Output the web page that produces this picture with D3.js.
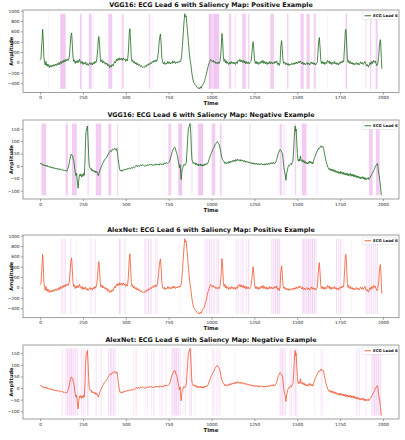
<!DOCTYPE html>
<html><head><meta charset="utf-8">
<script src="https://cdn.jsdelivr.net/npm/d3@7"></script>
<style>body{margin:0;background:#fff}svg{display:block;font-family:"DejaVu Sans",sans-serif}</style>
</head><body><svg id="c" width="405" height="440"></svg>
<script>
// ---------------- DATA ----------------
const titles = [
  "VGG16: ECG Lead 6 with Saliency Map: Positive Example",
  "VGG16: ECG Lead 6 with Saliency Map: Negative Example",
  "AlexNet: ECG Lead 6 with Saliency Map: Positive Example",
  "AlexNet: ECG Lead 6 with Saliency Map: Negative Example"
];
const legendLabel = "ECG Lead 6";
const xLabel = "Time", yLabel = "Amplitude";
const xTicks = [0,250,500,750,1000,1250,1500,1750,2000];
const yTicksPositive = [-400,-200,0,200,400,600,800,1000];
const yTicksNegative = [-100,-50,0,50,100,150];

// ECG lead 6, positive example [time, amplitude]
const ecgPositive = [[0,50],[5,80],[10,350],[15,640],[19,400],[22,100],[26,0],[30,-50],[34,20],[38,-60],[42,-30],[46,-80],[50,-40],[55,-100],[60,-60],[65,-90],[70,-50],[75,-80],[80,-40],[85,-70],[90,-30],[95,-60],[100,-20],[105,-50],[110,0],[115,-40],[120,20],[125,-20],[130,30],[135,0],[140,50],[145,10],[150,60],[155,30],[160,70],[165,40],[170,100],[175,300],[180,520],[184,570],[188,350],[192,100],[196,20],[200,50],[205,-20],[210,30],[215,-10],[220,40],[225,0],[230,60],[235,10],[240,-20],[245,20],[250,-40],[255,0],[260,-30],[265,10],[270,-50],[275,-20],[280,-60],[285,-30],[290,0],[295,-40],[300,-10],[305,-50],[310,0],[315,-30],[320,20],[325,-10],[330,50],[335,200],[340,450],[343,500],[347,350],[351,100],[355,10],[360,50],[365,-10],[370,30],[375,-20],[380,0],[385,-40],[390,-10],[395,-70],[400,-40],[405,-100],[410,-60],[415,-90],[420,-40],[425,-70],[430,-20],[435,20],[440,-10],[445,60],[450,30],[455,80],[460,40],[465,90],[470,50],[475,80],[480,40],[485,90],[490,50],[495,70],[500,20],[505,60],[510,30],[515,200],[520,550],[524,650],[528,400],[532,100],[536,20],[540,50],[545,-10],[550,20],[555,-30],[560,0],[565,-50],[570,-20],[575,-60],[580,-40],[585,-80],[590,-60],[595,-90],[600,-100],[605,-80],[610,-95],[615,-60],[620,-80],[625,-40],[630,-60],[635,-20],[640,-40],[645,0],[650,-20],[655,20],[660,0],[665,40],[670,10],[675,50],[680,20],[685,80],[690,200],[696,450],[702,550],[706,380],[710,100],[715,0],[720,-30],[725,10],[730,-40],[735,-10],[740,-30],[745,20],[750,-20],[755,10],[760,-30],[765,0],[770,-20],[775,30],[780,-10],[785,20],[790,-20],[795,10],[800,-10],[805,20],[810,0],[815,30],[820,20],[825,100],[830,300],[835,550],[840,800],[844,940],[848,880],[852,900],[856,750],[860,600],[865,400],[870,200],[875,50],[880,-50],[885,-200],[890,-300],[895,-380],[900,-400],[905,-430],[910,-450],[915,-480],[920,-500],[925,-490],[930,-510],[935,-470],[940,-500],[945,-450],[950,-420],[955,-400],[960,-350],[965,-290],[970,-230],[975,-150],[980,-80],[985,-20],[990,20],[995,60],[1000,30],[1005,10],[1010,40],[1015,0],[1020,20],[1025,-20],[1030,0],[1035,-30],[1040,10],[1045,-20],[1050,30],[1055,200],[1061,560],[1065,400],[1069,120],[1073,20],[1078,60],[1082,-10],[1086,30],[1090,-20],[1095,10],[1100,-40],[1105,0],[1110,-30],[1115,20],[1120,-20],[1125,10],[1130,-30],[1135,0],[1140,-40],[1145,10],[1150,-20],[1155,40],[1160,20],[1165,60],[1170,10],[1175,50],[1180,0],[1185,40],[1190,-10],[1195,30],[1200,-30],[1205,20],[1210,-20],[1215,10],[1220,-30],[1225,0],[1230,20],[1235,150],[1240,350],[1243,400],[1247,250],[1251,50],[1256,-20],[1260,20],[1265,-30],[1270,10],[1275,-40],[1280,0],[1285,-20],[1290,30],[1295,-10],[1300,40],[1305,-20],[1310,20],[1315,-30],[1320,10],[1325,-40],[1330,0],[1335,-30],[1340,20],[1345,-20],[1350,10],[1355,-30],[1360,0],[1365,-20],[1370,20],[1375,-10],[1380,30],[1385,-40],[1390,-10],[1395,-60],[1400,0],[1404,300],[1409,420],[1413,250],[1417,40],[1422,-20],[1427,10],[1432,-40],[1437,-10],[1442,-50],[1447,-20],[1452,-60],[1457,-30],[1462,-50],[1467,-20],[1472,-40],[1477,-10],[1482,-40],[1487,0],[1492,-30],[1497,10],[1502,-20],[1507,20],[1512,-10],[1517,30],[1522,0],[1527,-30],[1532,10],[1537,-40],[1542,-10],[1547,-50],[1552,-20],[1557,0],[1562,-40],[1567,-10],[1572,-50],[1577,-20],[1582,10],[1587,-30],[1592,0],[1597,-40],[1602,-10],[1607,-50],[1612,-20],[1617,0],[1620,150],[1625,400],[1629,480],[1633,300],[1637,60],[1641,-20],[1646,20],[1651,-30],[1656,10],[1661,-40],[1666,0],[1671,-20],[1676,40],[1681,0],[1686,30],[1691,-30],[1696,10],[1701,-40],[1706,0],[1711,-20],[1716,20],[1721,-30],[1726,0],[1731,-40],[1736,-10],[1741,-50],[1746,0],[1751,-20],[1756,20],[1761,-10],[1766,30],[1771,10],[1776,300],[1781,620],[1784,640],[1788,400],[1792,100],[1796,0],[1800,40],[1805,-20],[1810,20],[1815,-30],[1820,0],[1825,-40],[1830,-10],[1835,-50],[1840,-20],[1845,0],[1850,-40],[1855,-10],[1860,-50],[1865,-20],[1870,10],[1875,-30],[1880,0],[1885,-40],[1890,-10],[1895,20],[1900,-30],[1905,-70],[1910,-40],[1915,-90],[1920,-50],[1925,0],[1930,-40],[1935,20],[1940,-20],[1945,40],[1950,0],[1955,30],[1960,-20],[1965,-60],[1970,-20],[1975,100],[1980,350],[1985,440],[1988,300],[1991,50],[1994,-120]];

// ECG lead 6, negative example [time, amplitude]
const ecgNegative = [[0,12],[5,8],[10,10],[15,2],[20,6],[25,0],[30,4],[35,-2],[40,3],[45,-4],[50,0],[55,-6],[60,-2],[65,-8],[70,-4],[75,-10],[80,-6],[85,-12],[90,-8],[95,-13],[100,-9],[105,-15],[110,-11],[115,-16],[120,-13],[125,-17],[130,-14],[135,-19],[140,-16],[145,-20],[150,-18],[155,-22],[160,-14],[165,-5],[170,10],[175,30],[180,45],[183,48],[186,42],[190,40],[194,25],[197,18],[201,-5],[205,-25],[209,-39],[213,-30],[217,-60],[222,-90],[226,-55],[230,-35],[234,-40],[238,-32],[242,-45],[246,-35],[250,-42],[254,-30],[258,-38],[262,20],[265,100],[268,140],[272,150],[276,161],[279,120],[283,50],[286,6],[290,-5],[294,-13],[298,-10],[302,-20],[306,-15],[310,-22],[314,-18],[318,-25],[322,-20],[326,-28],[330,-22],[335,-30],[340,-39],[344,-28],[348,-20],[352,-12],[356,-5],[360,2],[365,10],[370,15],[375,25],[380,28],[386,31],[392,40],[398,48],[404,55],[410,62],[416,58],[422,68],[428,65],[435,72],[440,66],[444,63],[448,70],[452,50],[456,25],[460,5],[464,-13],[468,-20],[472,-16],[478,-22],[484,-15],[490,-18],[496,-12],[502,-16],[508,-10],[514,-14],[520,-8],[526,-12],[532,-6],[538,-10],[544,-4],[550,-8],[556,-2],[562,4],[568,-4],[574,2],[580,-2],[586,5],[592,0],[598,6],[604,2],[610,-2],[616,4],[622,0],[628,6],[634,2],[640,8],[646,3],[652,7],[658,1],[664,6],[670,2],[676,9],[682,4],[688,8],[694,3],[700,10],[706,5],[712,9],[718,4],[724,12],[730,8],[736,14],[742,9],[748,12],[754,16],[760,30],[766,45],[772,60],[778,70],[783,76],[788,74],[793,60],[798,50],[802,38],[806,20],[810,5],[813,-7],[817,5],[820,-30],[823,-55],[826,-30],[829,-13],[833,-5],[837,5],[841,6],[845,2],[849,8],[853,15],[857,60],[861,110],[865,150],[870,160],[875,171],[879,130],[883,60],[886,25],[889,19],[893,10],[897,14],[901,8],[905,12],[909,4],[913,10],[917,2],[921,8],[925,0],[929,6],[933,2],[937,8],[941,0],[945,5],[949,-1],[953,6],[957,1],[961,8],[965,4],[969,10],[973,6],[977,12],[981,15],[985,25],[990,35],[995,45],[1000,55],[1005,60],[1010,70],[1015,75],[1020,85],[1025,90],[1030,95],[1034,98],[1038,92],[1043,89],[1047,80],[1052,65],[1057,45],[1062,30],[1067,22],[1072,19],[1077,10],[1082,16],[1087,8],[1092,14],[1097,10],[1102,18],[1107,12],[1112,20],[1117,15],[1122,22],[1127,17],[1132,24],[1137,18],[1142,26],[1147,20],[1152,28],[1157,22],[1162,25],[1167,19],[1172,26],[1177,20],[1182,24],[1187,17],[1192,22],[1197,15],[1202,20],[1207,14],[1212,18],[1217,12],[1222,16],[1227,10],[1232,14],[1237,8],[1242,13],[1247,7],[1252,12],[1257,6],[1262,11],[1267,5],[1272,10],[1277,4],[1282,9],[1287,5],[1292,10],[1297,4],[1302,8],[1307,3],[1312,9],[1317,4],[1322,10],[1327,5],[1332,11],[1337,6],[1342,12],[1347,8],[1352,14],[1357,9],[1362,15],[1367,8],[1372,12],[1377,20],[1382,30],[1387,45],[1392,55],[1397,64],[1401,67],[1405,62],[1410,55],[1414,51],[1418,25],[1422,-5],[1426,-20],[1430,-35],[1434,-58],[1438,-30],[1442,-20],[1446,-5],[1450,2],[1454,0],[1459,6],[1463,10],[1467,5],[1471,14],[1475,20],[1479,60],[1483,120],[1486,150],[1488,161],[1491,140],[1494,149],[1497,100],[1501,50],[1504,25],[1507,19],[1511,28],[1515,20],[1519,40],[1523,22],[1527,18],[1531,25],[1535,15],[1539,22],[1543,12],[1547,18],[1551,10],[1555,14],[1559,8],[1563,15],[1567,10],[1571,20],[1575,12],[1579,18],[1583,10],[1587,15],[1591,8],[1595,20],[1600,30],[1605,40],[1610,50],[1615,58],[1620,65],[1625,72],[1630,70],[1635,78],[1640,82],[1645,74],[1650,78],[1654,70],[1658,55],[1662,40],[1666,25],[1670,15],[1674,5],[1678,-5],[1682,-7],[1686,-15],[1690,-10],[1694,-18],[1698,-12],[1702,-20],[1706,-14],[1710,-22],[1714,-15],[1718,-24],[1722,-18],[1726,-26],[1730,-20],[1734,-28],[1738,-22],[1742,-30],[1746,-24],[1750,-32],[1754,-22],[1758,-30],[1762,-25],[1766,-34],[1770,-26],[1774,-35],[1778,-28],[1782,-36],[1786,-29],[1790,-38],[1794,-30],[1798,-40],[1802,-32],[1806,-38],[1810,-30],[1814,-42],[1818,-34],[1822,-40],[1826,-33],[1830,-44],[1834,-36],[1838,-45],[1842,-38],[1846,-47],[1850,-40],[1854,-48],[1858,-42],[1862,-50],[1866,-44],[1870,-52],[1874,-45],[1878,-50],[1882,-43],[1886,-53],[1890,-46],[1894,-55],[1898,-48],[1902,-56],[1906,-50],[1910,-53],[1914,-47],[1918,-55],[1922,-50],[1926,-45],[1930,-40],[1934,-35],[1938,-30],[1942,-25],[1946,-18],[1950,-13],[1954,-5],[1958,0],[1962,5],[1966,10],[1969,8],[1972,-10],[1975,-30],[1978,-39],[1982,-60],[1986,-85],[1990,-115],[1994,-119]];

// saliency bands [start, end, intensity]
const salVggPos = [[46,50,0.08],[118,149,0.22],[232,243,0.2],[284,301,0.2],[309,313,0.08],[398,421,0.2],[475,489,0.15],[634,643,0.15],[655,659,0.07],[897,901,0.07],[984,1000,0.22],[1000,1012,0.15],[1012,1045,0.22],[1101,1115,0.18],[1136,1144,0.1],[1179,1200,0.2],[1213,1221,0.18],[1343,1364,0.2],[1440,1449,0.18],[1519,1538,0.2],[1554,1573,0.2],[1596,1608,0.18],[1675,1679,0.08],[1782,1791,0.2],[1896,1905,0.1],[1925,1932,0.2],[1957,1969,0.2]];
const salVggNeg = [[8,35,0.2],[149,162,0.2],[186,214,0.2],[276,284,0.15],[325,357,0.2],[398,415,0.2],[448,456,0.15],[571,574,0.07],[724,727,0.07],[748,765,0.18],[806,829,0.22],[883,889,0.15],[922,951,0.22],[1001,1022,0.2],[1049,1059,0.18],[1221,1227,0.15],[1397,1411,0.18],[1420,1426,0.15],[1433,1436,0.08],[1464,1467,0.07],[1486,1494,0.18],[1516,1519,0.07],[1527,1554,0.2],[1613,1619,0.1],[1919,1940,0.2],[1959,1981,0.2]];
const salAlexPos = [[122,126,0.12],[130,134,0.15],[138,142,0.12],[146,151,0.15],[174,178,0.12],[179,182,0.1],[212,214,0.08],[290,294,0.12],[297,300,0.12],[319,325,0.12],[460,466,0.18],[468,473,0.15],[489,493,0.1],[495,499,0.12],[607,611,0.12],[614,619,0.14],[622,626,0.12],[630,636,0.15],[640,645,0.12],[648,653,0.12],[671,676,0.12],[680,686,0.1],[811,814,0.07],[958,962,0.1],[966,972,0.14],[976,981,0.12],[985,992,0.16],[996,1001,0.12],[1006,1012,0.14],[1016,1020,0.12],[1025,1030,0.12],[1035,1043,0.14],[1142,1147,0.12],[1152,1159,0.12],[1169,1175,0.12],[1180,1188,0.12],[1200,1206,0.12],[1212,1221,0.12],[1349,1356,0.14],[1360,1366,0.15],[1370,1378,0.16],[1382,1390,0.18],[1394,1401,0.14],[1530,1538,0.18],[1541,1548,0.16],[1551,1558,0.12],[1561,1570,0.18],[1573,1582,0.15],[1585,1592,0.18],[1596,1605,0.16],[1608,1613,0.12],[1726,1732,0.12],[1736,1742,0.12],[1748,1758,0.12],[1770,1774,0.07],[1814,1818,0.07],[1900,1906,0.14],[1910,1916,0.12],[1920,1926,0.12],[1930,1936,0.14],[1942,1950,0.12],[1955,1962,0.12],[1965,1971,0.12]];
const salAlexNeg = [[120,124,0.08],[128,133,0.1],[147,152,0.12],[155,163,0.15],[166,174,0.16],[177,186,0.16],[189,197,0.14],[200,208,0.15],[212,222,0.12],[238,244,0.12],[248,256,0.1],[260,265,0.12],[274,280,0.15],[282,286,0.1],[319,324,0.08],[327,332,0.1],[348,352,0.08],[356,361,0.1],[396,404,0.12],[408,418,0.14],[422,432,0.12],[434,441,0.12],[454,458,0.07],[543,548,0.1],[556,564,0.1],[614,619,0.08],[623,628,0.08],[647,652,0.08],[658,663,0.1],[666,671,0.08],[696,701,0.1],[708,715,0.1],[728,733,0.08],[736,740,0.08],[767,775,0.14],[778,788,0.16],[790,798,0.18],[801,810,0.15],[813,821,0.12],[837,842,0.1],[845,850,0.1],[870,876,0.12],[879,885,0.15],[900,904,0.07],[976,980,0.07],[1001,1006,0.1],[1010,1016,0.12],[1028,1034,0.1],[1040,1046,0.1],[1049,1053,0.1],[1134,1138,0.07],[1397,1404,0.14],[1408,1416,0.16],[1419,1425,0.12],[1428,1434,0.12],[1455,1461,0.1],[1464,1469,0.1],[1478,1484,0.1],[1487,1494,0.14],[1496,1500,0.1],[1598,1602,0.07],[1637,1642,0.12],[1644,1648,0.1],[1842,1848,0.1],[1852,1858,0.1],[1860,1865,0.1],[1896,1900,0.08],[1904,1909,0.08],[1929,1935,0.1],[1938,1946,0.14],[1948,1956,0.16],[1958,1966,0.14],[1969,1977,0.16],[1980,1990,0.12]];

// ---------------- LAYOUT ----------------
const panels = [
  {title: titles[0], data: ecgPositive, bands: salVggPos, ticks: yTicksPositive, color: "#1e6b1e", top: 10, bottom: 92.6},
  {title: titles[1], data: ecgNegative, bands: salVggNeg, ticks: yTicksNegative, color: "#1e6b1e", top: 120, bottom: 199},
  {title: titles[2], data: ecgPositive, bands: salAlexPos, ticks: yTicksPositive, color: "#f2552c", top: 235, bottom: 317.7},
  {title: titles[3], data: ecgNegative, bands: salAlexNeg, ticks: yTicksNegative, color: "#f2552c", top: 345, bottom: 419}
];
const left = 23, right = 399;
const bandColor = "#bf00bf";
const fmt = d3.format("d");
const svg = d3.select("#c");

panels.forEach((p, i) => {
  const g = svg.append("g");
  const tExt = d3.extent(p.data, d => d[0]);
  const tPad = (tExt[1] - tExt[0]) * 0.05;
  const x = d3.scaleLinear().domain([tExt[0] - tPad, tExt[1] + tPad]).range([left, right]);
  const vExt = d3.extent(p.data, d => d[1]);
  const vPad = (vExt[1] - vExt[0]) * 0.05;
  const y = d3.scaleLinear().domain([vExt[0] - vPad, vExt[1] + vPad]).range([p.bottom, p.top]);

  const clipId = "clip" + i;
  g.append("clipPath").attr("id", clipId).append("rect")
    .attr("x", left).attr("y", p.top).attr("width", right - left).attr("height", p.bottom - p.top);

  // saliency bands spanning the signal range
  g.append("g").attr("clip-path", `url(#${clipId})`).selectAll("rect").data(p.bands).join("rect")
    .attr("x", d => x(d[0])).attr("width", d => Math.max(0.6, x(d[1]) - x(d[0])))
    .attr("y", y(vExt[1])).attr("height", y(vExt[0]) - y(vExt[1]))
    .attr("fill", bandColor).attr("fill-opacity", d => d[2]);

  // signal
  g.append("path").datum(p.data)
    .attr("clip-path", `url(#${clipId})`)
    .attr("d", d3.line().x(d => x(d[0])).y(d => y(d[1])))
    .attr("fill", "none").attr("stroke", p.color).attr("stroke-width", 0.8).attr("stroke-linejoin", "round");

  // axes
  const xa = g.append("g").attr("transform", `translate(0,${p.bottom})`)
    .call(d3.axisBottom(x).tickValues(xTicks).tickFormat(fmt).tickSize(2).tickPadding(1.5));
  const ya = g.append("g").attr("transform", `translate(${left},0)`)
    .call(d3.axisLeft(y).tickValues(p.ticks).tickFormat(fmt).tickSize(2).tickPadding(1.5));
  [xa, ya].forEach(a => {
    a.select(".domain").remove();
    a.selectAll("line").attr("stroke", "#444").attr("stroke-width", 0.5);
    a.selectAll("text").attr("font-size", 4.3).attr("fill", "#222").attr("font-family", "DejaVu Sans");
  });

  // frame
  g.append("rect").attr("x", left).attr("y", p.top).attr("width", right - left).attr("height", p.bottom - p.top)
    .attr("fill", "none").attr("stroke", "#777").attr("stroke-width", 0.7);

  // title
  g.append("text").attr("x", (left + right) / 2).attr("y", p.top - 2.6).attr("text-anchor", "middle")
    .attr("font-size", 6.4).attr("font-weight", "bold").attr("fill", "#111").text(p.title);
  // axis labels
  g.append("text").attr("x", (left + right) / 2).attr("y", p.bottom + 12.5).attr("text-anchor", "middle")
    .attr("font-size", 5.4).attr("font-weight", "bold").attr("fill", "#111").text(xLabel);
  g.append("text").attr("transform", `translate(13.2,${(p.top + p.bottom) / 2}) rotate(-90)`).attr("text-anchor", "middle")
    .attr("font-size", 5.0).attr("font-weight", "bold").attr("fill", "#111").text(yLabel);

  // legend
  const lg = g.append("g").attr("transform", `translate(362,${p.top + 2})`);
  lg.append("rect").attr("width", 35).attr("height", 7.5).attr("rx", 1)
    .attr("fill", "#fff").attr("fill-opacity", 0.85).attr("stroke", "#ccc").attr("stroke-width", 0.4);
  lg.append("line").attr("x1", 2.5).attr("x2", 9).attr("y1", 3.75).attr("y2", 3.75)
    .attr("stroke", p.color).attr("stroke-width", 0.9);
  lg.append("text").attr("x", 11).attr("y", 5.2).attr("font-size", 3.9).attr("font-weight", "bold")
    .attr("fill", "#111").text(legendLabel);
});
</script></body></html>
